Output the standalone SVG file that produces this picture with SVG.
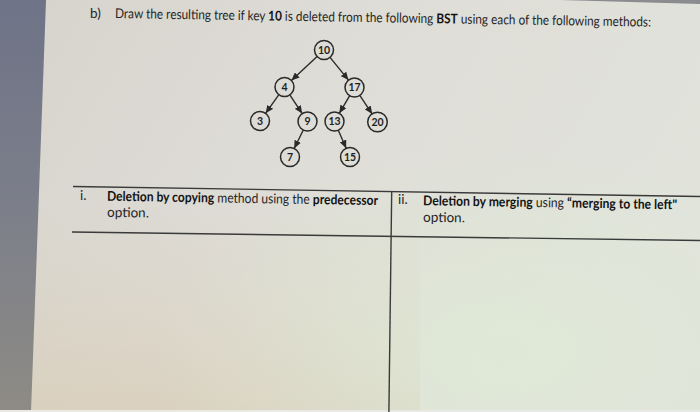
<svg xmlns="http://www.w3.org/2000/svg" width="700" height="412" viewBox="0 0 700 412">
  <defs>
    <linearGradient id="paper" x1="0" y1="0" x2="1" y2="0.35">
      <stop offset="0" stop-color="#d5d3cb"/>
      <stop offset="0.45" stop-color="#dedcd6"/>
      <stop offset="1" stop-color="#e1e3db"/>
    </linearGradient>
    <linearGradient id="warm" x1="0" y1="0" x2="0" y2="1">
      <stop offset="0" stop-color="#d9cfbd" stop-opacity="0"/>
      <stop offset="1" stop-color="#d9cdb8" stop-opacity="0.75"/>
    </linearGradient>
    <radialGradient id="green" cx="0.72" cy="0.85" r="0.5">
      <stop offset="0" stop-color="#dfe9d6" stop-opacity="0.9"/>
      <stop offset="1" stop-color="#dfe9d6" stop-opacity="0"/>
    </radialGradient>
    <linearGradient id="strip" x1="0" y1="0" x2="0" y2="1">
      <stop offset="0" stop-color="#6e7387"/>
      <stop offset="0.5" stop-color="#7c7f8a"/>
      <stop offset="1" stop-color="#8e8b85"/>
    </linearGradient>
    <marker id="arr" markerUnits="userSpaceOnUse" markerWidth="8" markerHeight="7" refX="8" refY="3.5" orient="auto">
      <path d="M0,0 L8,3.5 L0,7 z" fill="#2a2a2a"/>
    </marker>
  </defs>
  <style>
    .t { font-family: Lato, "Liberation Sans", sans-serif; font-size: 13.5px; fill: #262626; }
    .b { font-weight: bold; fill: #131313; }
    .node circle { fill: none; stroke: #2a2a2a; stroke-width: 1.5; }
    .node text { font-family: Lato, "Liberation Sans", sans-serif; font-size: 10.5px; font-weight: bold; fill: #1e1e1e; text-anchor: middle; }
    .edge { stroke: #2a2a2a; stroke-width: 1.4; marker-end: url(#arr); }
    .rule { stroke: #3a3a3a; stroke-width: 1.4; }
  </style>

  <!-- background -->
  <rect width="700" height="412" fill="url(#paper)"/>
  <rect x="0" y="200" width="420" height="212" fill="url(#warm)"/>
  <rect width="700" height="412" fill="url(#green)"/>
  <polygon points="0,0 46,0 31,412 0,412" fill="url(#strip)"/>
  <polygon points="560,0 700,0 700,4" fill="#8a8c90"/>
  <rect x="0" y="410" width="700" height="2" fill="#e9e9e6"/>

  <!-- heading -->
  <text class="t" x="90" y="17.5">b)</text>
  <text class="t" x="115" y="18" transform="rotate(0.92 115 18)" textLength="536" lengthAdjust="spacingAndGlyphs">Draw the resulting tree if key <tspan class="b">10</tspan> is deleted from the following <tspan class="b">BST</tspan> using each of the following methods:</text>

  <!-- connectors -->
  <g id="connectors">
    <line class="edge" x1="317.1" y1="56.5" x2="291.4" y2="80.5"/>
    <line class="edge" x1="330.0" y1="57.4" x2="348.5" y2="80.1"/>
    <line class="edge" x1="278.9" y1="94.7" x2="265.6" y2="113.3"/>
    <line class="edge" x1="289.8" y1="94.9" x2="302.2" y2="113.6"/>
    <line class="edge" x1="349.7" y1="95.7" x2="339.3" y2="113.3"/>
    <line class="edge" x1="359.8" y1="95.4" x2="372.2" y2="114.1"/>
    <line class="edge" x1="303.3" y1="130.0" x2="294.2" y2="148.5"/>
    <line class="edge" x1="338.3" y1="130.2" x2="346.2" y2="148.3"/>
  </g>

  <!-- nodes -->
  <g id="n10" class="node"><circle cx="324" cy="50" r="9.5"/><text x="324" y="53.7">10</text></g>
  <g id="n4" class="node"><circle cx="284.5" cy="87" r="9.5"/><text x="284.5" y="90.7">4</text></g>
  <g id="n17" class="node"><circle cx="354.5" cy="87.5" r="9.5"/><text x="354.5" y="91.2">17</text></g>
  <g id="n3" class="node"><circle cx="260" cy="121" r="9.5"/><text x="260" y="124.7">3</text></g>
  <g id="n9" class="node"><circle cx="307.5" cy="121.5" r="9.5"/><text x="307.5" y="125.2">9</text></g>
  <g id="n13" class="node"><circle cx="334.5" cy="121.5" r="9.5"/><text x="334.5" y="125.2">13</text></g>
  <g id="n20" class="node"><circle cx="377.5" cy="122" r="9.8"/><text x="377.5" y="125.7">20</text></g>
  <g id="n7" class="node"><circle cx="290" cy="157" r="9.5"/><text x="290" y="160.7">7</text></g>
  <g id="n15" class="node"><circle cx="350" cy="157" r="9.5"/><text x="350" y="160.7">15</text></g>

  <!-- table -->
  <line class="rule" x1="73" y1="186.5" x2="700" y2="196.5"/>
  <line class="rule" x1="72" y1="232" x2="700" y2="240.5"/>
  <line class="rule" x1="391.7" y1="191.5" x2="388.9" y2="412"/>

  <text class="t" x="80" y="199.5">i.</text>
  <text class="t" x="107" y="200.7" transform="rotate(0.92 107 200.7)" textLength="271" lengthAdjust="spacingAndGlyphs"><tspan class="b">Deletion by copying</tspan> method using the <tspan class="b">predecessor</tspan></text>
  <text class="t" x="107" y="216.8" transform="rotate(0.92 107 216.8)">option.</text>

  <text class="t" x="398" y="204.3">ii.</text>
  <text class="t" x="423" y="205.2" transform="rotate(0.92 423 205.2)" textLength="254" lengthAdjust="spacingAndGlyphs"><tspan class="b">Deletion by merging</tspan> using <tspan class="b">“merging to the left"</tspan></text>
  <text class="t" x="423" y="221.7" transform="rotate(0.92 423 221.7)">option.</text>
</svg>
